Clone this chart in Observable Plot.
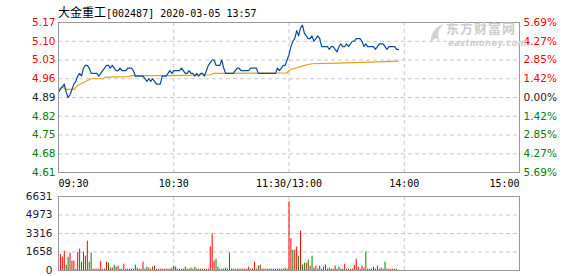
<!DOCTYPE html>
<html><head><meta charset="utf-8">
<script src="https://cdn.jsdelivr.net/npm/d3@7"></script>
<script src="https://cdn.jsdelivr.net/npm/@observablehq/plot@0.6"></script>
<style>
body{margin:0;background:#fff;}
#wrap{position:relative;width:578px;height:276px;overflow:hidden;background:#fff;}
#title{position:absolute;left:58px;top:3px;line-height:14px;white-space:nowrap;color:#000;}
#title .cjk{font:12px "Noto Sans CJK SC";}
#title .asc{font:10px "DejaVu Sans Mono";}
.wm{position:absolute;color:#cccccc;white-space:nowrap;}
#wmcn{left:446px;top:19px;font:bold 13px/18px "Noto Sans CJK SC";letter-spacing:1px;}
#wmen{left:448px;top:38px;font:italic bold 8.5px/10px "DejaVu Sans";letter-spacing:0.3px;}
#logo{position:absolute;left:428px;top:23px;}
.abs{position:absolute;left:0;}
</style></head>
<body><div id="wrap">
<div id="title"><span class="cjk">大金重工</span><span class="asc">[002487] 2020-03-05 13:57</span></div>
<svg id="logo" width="20" height="22"><path d="M3 20 C2 12 6 4 16 1 C10 6 9 12 12 18 C9 15 7 14 3 20 Z" fill="#d2d2d2"/></svg>
<div class="wm" id="wmcn">东方财富网</div><div class="wm" id="wmen">eastmoney.com</div>
</div>
<script>
// ---- data ----
const priceTicks = [5.17, 5.10, 5.03, 4.96, 4.89, 4.82, 4.75, 4.68, 4.61];
const pctLabels = ["5.69%", "4.27%", "2.85%", "1.42%", "0.00%", "1.42%", "2.85%", "4.27%", "5.69%"];
const preClose = 4.89;
const timeTicks = [0, 60, 120, 180, 240];
const timeLabels = ["09:30", "10:30", "11:30/13:00", "14:00", "15:00"];
const volTicks = [0, 1658, 3316, 4973, 6631];

// price per minute from 09:30 (index 0) to 13:57
const price = [
4.91,4.92,4.93,4.94,4.91,4.89,4.90,4.92,4.94,4.95,
4.97,4.98,4.97,5.00,5.01,5.01,5.00,4.98,4.98,4.98,
4.98,4.97,4.98,4.99,5.00,5.01,5.01,5.00,5.01,5.00,
4.99,4.99,5.00,4.99,4.99,4.99,5.00,5.00,5.00,4.99,
4.97,4.97,4.97,4.97,4.97,4.96,4.95,4.96,4.95,4.96,
4.95,4.94,4.94,4.94,4.97,4.97,4.97,4.98,4.99,4.98,
4.99,4.99,4.99,4.99,5.00,4.99,4.98,4.98,4.99,4.98,
4.98,4.97,4.98,4.97,4.98,4.98,4.97,4.99,5.01,5.02,
5.03,5.03,5.01,5.01,5.01,5.03,5.00,4.98,4.98,4.98,
4.98,4.98,4.99,5.00,5.00,4.99,4.99,4.99,4.99,4.99,
5.00,5.00,5.00,5.00,4.98,4.98,4.98,4.98,4.98,4.98,
4.98,4.98,4.98,4.98,5.00,4.99,5.00,5.01,5.01,5.03,
5.05,5.08,5.10,5.11,5.14,5.12,5.15,5.16,5.13,5.12,
5.11,5.11,5.12,5.10,5.11,5.12,5.11,5.08,5.08,5.08,
5.08,5.07,5.08,5.08,5.07,5.06,5.08,5.09,5.08,5.08,
5.09,5.08,5.09,5.10,5.10,5.11,5.11,5.11,5.10,5.08,
5.09,5.08,5.08,5.08,5.08,5.07,5.08,5.09,5.09,5.09,
5.08,5.07,5.08,5.08,5.08,5.08,5.07,5.07
];

// average price line (minute, value)
const avgMin = [0, 2, 4, 8, 10, 14, 17, 23, 24, 30, 37, 38, 60, 79, 81, 119, 120, 121, 125, 128, 132, 145, 158, 170, 177];
const avgVal = [4.92, 4.93, 4.92, 4.92, 4.935, 4.95, 4.96, 4.96, 4.965, 4.967, 4.968, 4.972, 4.972, 4.975, 4.98, 4.982, 4.99, 4.995, 5.003, 5.01, 5.016, 5.018, 5.021, 5.024, 5.026];

// volume per minute bar (first bar = 09:31)
const volume = [
1435,1196,1734,478,1196,1555,837,837,120,1645,
1914,748,1645,1286,2631,748,1555,120,120,120,
120,837,120,120,748,658,209,209,478,300,
389,120,120,568,120,120,120,120,120,478,
209,120,120,748,120,300,209,120,300,389,
120,120,120,120,120,120,120,120,209,389,
300,120,120,120,120,300,120,120,209,120,
300,120,120,120,120,120,120,120,2123,3259,
837,1017,300,120,120,120,209,120,1555,120,
120,120,120,120,120,120,120,120,300,120,
120,748,120,389,478,120,120,120,120,120,
120,120,120,120,120,120,120,209,120,6159,
2840,1824,1824,2093,1286,3528,478,658,658,927,
389,1286,209,389,120,389,120,300,478,120,
209,120,120,389,120,300,120,120,568,120,
120,120,120,478,1017,300,120,389,209,1645,
120,120,120,300,120,389,120,209,120,748,
120,120,120,120,120,120
];
const volDir = [
"r","r","r","g","g","r","r","r","r","r",
"g","g","r","r","r","g","g","r","r","r",
"r","r","r","r","r","g","r","r","g","g",
"r","r","r","r","r","r","r","r","r","g",
"r","r","r","r","r","g","r","r","g","r",
"r","r","r","r","r","r","r","r","r","g",
"r","r","r","r","r","g","r","r","g","r",
"g","r","r","r","g","g","r","r","r","r",
"r","g","g","r","r","r","g","r","g","r",
"r","r","r","r","r","r","r","r","r","r",
"r","r","r","g","r","r","r","r","r","r",
"r","r","r","r","r","r","r","r","r","r",
"r","g","r","r","g","r","g","g","r","g",
"r","g","r","r","r","g","r","r","r","r",
"g","r","r","r","r","g","r","r","r","r",
"r","g","r","r","r","r","r","r","r","g",
"r","g","r","r","r","r","r","r","r","g",
"r","r","r","r","r","g"
];

// ---- build ----
const UP = "#ff0000", DOWN = "#008000", FLAT = "#222222";
const priceData = price.map((p, i) => ({m: i, p}));
const avgData = avgMin.map((m, i) => ({m, v: avgVal[i]}));
const volData = volume.map((v, i) => ({m: i + 1, v, c: volDir[i] === "r" ? UP : DOWN}));
const pctMap = new Map(priceTicks.map((t, i) => [t, pctLabels[i]]));
const tColor = d => d > preClose ? UP : d < preClose ? DOWN : FLAT;
const grid = {stroke: "#c8c8c8", strokeDasharray: "4,3", strokeWidth: 1};
const font = "DejaVu Sans";
const tl = d => timeLabels[timeTicks.indexOf(d)];
const tOpts = {tickSize: 0, tickPadding: 7, tickFormat: tl, label: null, fontFamily: "DejaVu Sans Mono", fontSize: 10, fill: "#000"};

const pricePlot = Plot.plot({
  width: 578, height: 190,
  marginLeft: 58, marginRight: 59, marginTop: 22, marginBottom: 18,
  x: {domain: [0, 240], axis: null},
  y: {domain: [4.61, 5.17], axis: null},
  style: {fontFamily: font, fontSize: "10.5px", background: "transparent"},
  marks: [
    Plot.ruleY(priceTicks.slice(1, -1), grid),
    Plot.ruleX(timeTicks.slice(1, -1), grid),
    Plot.line(avgData, {x: "m", y: "v", stroke: "#e3a01b", strokeWidth: 1.2}),
    Plot.line(priceData, {x: "m", y: "p", stroke: "#0b4c9e", strokeWidth: 1.2}),
    Plot.frame({stroke: "#999"}),
    Plot.axisY(priceTicks, {anchor: "left", label: null, tickSize: 0, tickPadding: 3, tickFormat: d => d.toFixed(2), fill: tColor, fontSize: 10.5}),
    Plot.axisY(priceTicks, {anchor: "right", label: null, tickSize: 0, tickPadding: 4, tickFormat: d => pctMap.get(d), fill: tColor, fontSize: 10.5}),
    Plot.axisX(timeTicks.slice(0, 1), {...tOpts, textAnchor: "start"}),
    Plot.axisX(timeTicks.slice(1, -1), {...tOpts, textAnchor: "middle"}),
    Plot.axisX(timeTicks.slice(-1), {...tOpts, textAnchor: "end"})
  ]
});
pricePlot.classList.add("abs");
pricePlot.style.top = "0px";

const volPlot = Plot.plot({
  width: 578, height: 86,
  marginLeft: 58, marginRight: 59, marginTop: 6, marginBottom: 6,
  x: {domain: [0, 240], axis: null},
  y: {domain: [0, 6631], axis: null},
  style: {fontFamily: font, fontSize: "10.5px", background: "transparent"},
  marks: [
    Plot.ruleY(volTicks.slice(1, -1), grid),
    Plot.ruleX(timeTicks.slice(1, -1), grid),
    Plot.ruleX(volData, {x: "m", y1: 0, y2: "v", stroke: "c", strokeWidth: 1}),
    Plot.frame({stroke: "#999"}),
    Plot.axisY(volTicks, {anchor: "left", label: null, tickSize: 0, tickPadding: 6, tickFormat: d => String(d), fill: "#1c1c3a", fontSize: 10.5})
  ]
});
volPlot.classList.add("abs");
volPlot.style.top = "190px";

const wrap = document.getElementById("wrap");
wrap.insertBefore(volPlot, wrap.firstChild);
wrap.insertBefore(pricePlot, wrap.firstChild);
</script>
</body></html>
